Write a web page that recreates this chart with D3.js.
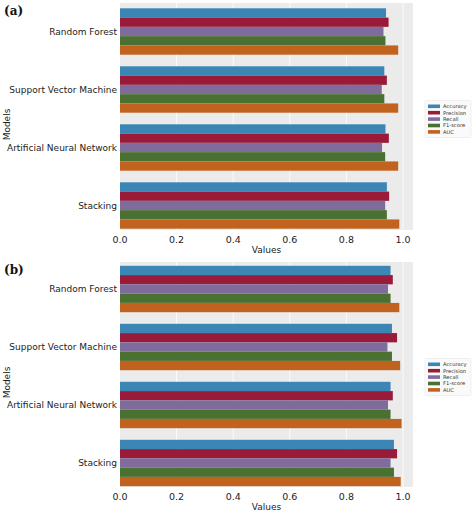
<!DOCTYPE html>
<html>
<head>
<meta charset="utf-8">
<script src="https://cdn.jsdelivr.net/npm/d3@7/dist/d3.min.js"></script>
<style>
  body { margin: 0; background: #fff; }
  svg { display: block; font-family: "DejaVu Sans", sans-serif; }
</style>
</head>
<body>
<div id="chart"></div>
<script>
// Chart data
var models = ["Random Forest", "Support Vector Machine", "Artificial Neural Network", "Stacking"];
var metrics = ["Accuracy", "Precision", "Recall", "F1-score", "AUC"];
var xTicks = [0.0, 0.2, 0.4, 0.6, 0.8, 1.0];

// one row per model, columns follow metrics
var scoresA = [
  [0.940, 0.949, 0.931, 0.938, 0.983],
  [0.934, 0.943, 0.925, 0.934, 0.983],
  [0.938, 0.950, 0.926, 0.937, 0.983],
  [0.943, 0.951, 0.937, 0.943, 0.987]
];
var scoresB = [
  [0.956, 0.964, 0.947, 0.956, 0.987],
  [0.961, 0.979, 0.945, 0.961, 0.990],
  [0.956, 0.964, 0.947, 0.956, 0.995],
  [0.968, 0.979, 0.956, 0.968, 0.992]
];

var colors = ["#3b86b5", "#991b39", "#7f6c9d", "#4a7132", "#c2621f"];

var W = 474, H = 511;
var svg = d3.select("#chart").append("svg")
  .attr("width", W)
  .attr("height", H);

var x = d3.scaleLinear().domain([0, 1]).range([120, 403]);
var xMax = 1.035;
var fs = 9;

function drawPanel(scores, top, bottom, bandTop, bandBottom, tag) {
  var g = svg.append("g");

  // background
  g.append("rect")
    .attr("x", x(0)).attr("y", top)
    .attr("width", x(xMax) - x(0)).attr("height", bottom - top)
    .attr("fill", "#ebebeb");

  // grid lines
  g.selectAll(".grid")
    .data(xTicks.slice(1))
    .enter().append("line")
    .attr("x1", function(d) { return x(d); })
    .attr("x2", function(d) { return x(d); })
    .attr("y1", top).attr("y2", bottom)
    .attr("stroke", "#ffffff")
    .attr("stroke-width", 0.8);

  // seaborn style category positions: -0.5 .. n-0.5
  var y = d3.scaleLinear().domain([-0.5, models.length - 0.5]).range([bandTop, bandBottom]);
  var barH = 0.8 / metrics.length;

  models.forEach(function(m, i) {
    g.selectAll(".bar" + i)
      .data(scores[i])
      .enter().append("rect")
      .attr("x", x(0))
      .attr("y", function(d, j) { return y(i - 0.4 + j * barH); })
      .attr("width", function(d) { return x(d) - x(0); })
      .attr("height", y(barH) - y(0))
      .attr("fill", function(d, j) { return colors[j]; });
  });

  // model labels
  g.selectAll(".ylab")
    .data(models)
    .enter().append("text")
    .attr("x", x(0) - 3)
    .attr("y", function(d, i) { return y(i); })
    .attr("dy", "0.35em")
    .attr("text-anchor", "end")
    .attr("font-size", fs)
    .attr("fill", "#222")
    .text(function(d) { return d; });

  // x tick labels
  g.selectAll(".xlab")
    .data(xTicks)
    .enter().append("text")
    .attr("x", function(d) { return x(d); })
    .attr("y", bottom + 13)
    .attr("text-anchor", "middle")
    .attr("font-size", fs + 0.5)
    .attr("fill", "#222")
    .text(function(d) { return d3.format(".1f")(d); });

  g.append("text")
    .attr("x", (x(0) + x(xMax)) / 2)
    .attr("y", bottom + 23)
    .attr("text-anchor", "middle")
    .attr("font-size", fs)
    .attr("fill", "#222")
    .text("Values");

  // y axis title
  var midY = (top + bottom) / 2;
  g.append("text")
    .attr("transform", "translate(10," + (midY + 8) + ") rotate(-90)")
    .attr("text-anchor", "middle")
    .attr("font-size", fs)
    .attr("fill", "#222")
    .text("Models");

  // panel tag
  g.append("text")
    .attr("x", 4)
    .attr("y", top + 12)
    .attr("font-family", "'DejaVu Serif', serif")
    .attr("font-weight", "bold")
    .attr("font-size", 12)
    .attr("fill", "#111")
    .text(tag);

  // legend
  var lg = g.append("g").attr("transform", "translate(425," + (midY - 16) + ")");
  lg.append("rect")
    .attr("x", 0).attr("y", 0)
    .attr("width", 46).attr("height", 37)
    .attr("fill", "#fafafa")
    .attr("stroke", "#e2e2e2")
    .attr("stroke-width", 0.5)
    .attr("rx", 1.5);
  var item = lg.selectAll(".item")
    .data(metrics)
    .enter().append("g")
    .attr("transform", function(d, i) { return "translate(3," + (4 + i * 6.4) + ")"; });
  item.append("rect")
    .attr("width", 12).attr("height", 3.6)
    .attr("fill", function(d, i) { return colors[i]; });
  item.append("text")
    .attr("x", 15).attr("y", 1.9)
    .attr("dy", "0.35em")
    .attr("font-size", 5.2)
    .attr("fill", "#333")
    .text(function(d) { return d; });
}

drawPanel(scoresA, 3, 230, 2.5, 234.5, "(a)");
drawPanel(scoresB, 262, 487, 260, 492, "(b)");
</script>
</body>
</html>
